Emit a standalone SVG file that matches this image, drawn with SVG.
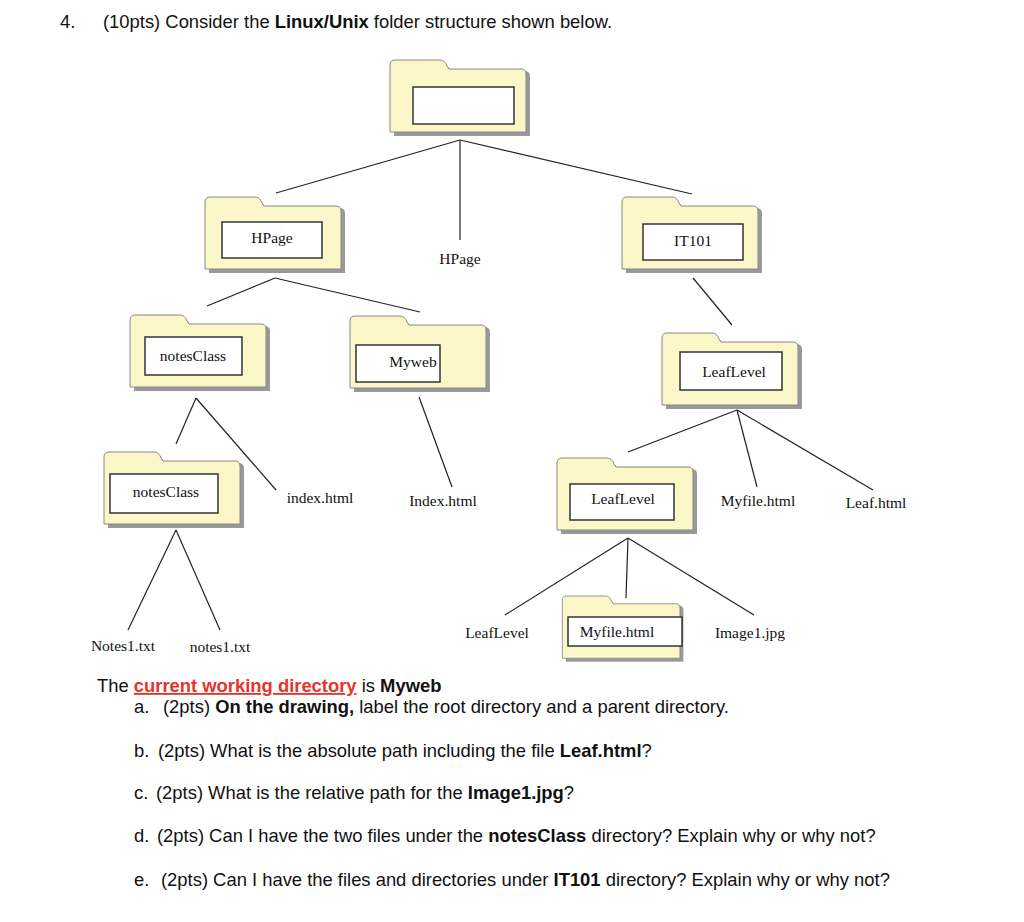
<svg xmlns="http://www.w3.org/2000/svg" width="1024" height="922" viewBox="0 0 1024 922">
<defs>
<style>
.f{fill:#fbf7c8;stroke:#888;stroke-width:1}
.sh{fill:#999}
.b{fill:#fff;stroke:#333;stroke-width:1.5}
.t{font-family:"Liberation Serif",serif;font-size:15.5px;fill:#111}
.q{font-family:"Liberation Sans",Arial,sans-serif;font-size:18.4px;fill:#111}
.c line{stroke:#222;stroke-width:1.2}
</style>
<symbol id="fold" viewBox="0 0 138 74" overflow="visible">
<path class="sh" d="M4 14 L4 8 Q4 5 8 5 L54 5 Q58 5 60 10 L134 11 Q140 11 140 16 L140 76 L4 76 Z"/>
<path class="f" d="M0 10 L0 5 Q0 0 5 0 L50 0 Q55 0 57 6 L59 9 L131 9 Q136 9 136 14 L136 72 L0 72 Z"/>
</symbol>
</defs>
<rect width="1024" height="922" fill="#fff"/>
<text class="q" x="60" y="28">4.</text>
<text class="q" x="103" y="28">(10pts) Consider the <tspan font-weight="bold">Linux/Unix</tspan> folder structure shown below.</text>
<g class="c">
<line x1="460" y1="140" x2="276" y2="193"/><line x1="460" y1="140" x2="460" y2="240"/><line x1="460" y1="140" x2="692" y2="194"/>
<line x1="275" y1="278" x2="207" y2="306"/><line x1="275" y1="278" x2="420" y2="312"/>
<line x1="693" y1="278" x2="732" y2="325"/>
<line x1="196" y1="398" x2="176" y2="444"/><line x1="196" y1="398" x2="276" y2="490"/>
<line x1="419" y1="397" x2="452" y2="487"/>
<line x1="737" y1="410" x2="628" y2="452"/><line x1="737" y1="410" x2="757" y2="487"/><line x1="737" y1="410" x2="873" y2="490"/>
<line x1="176" y1="530" x2="128" y2="630"/><line x1="176" y1="530" x2="220" y2="630"/>
<line x1="628" y1="538" x2="505" y2="615"/><line x1="628" y1="538" x2="626" y2="598"/><line x1="628" y1="538" x2="754" y2="615"/>
</g>
<g id="root"><use href="#fold" x="390" y="60" width="138" height="74"/><rect class="b" x="413" y="87" width="101" height="37"/></g>
<g id="hpage"><use href="#fold" x="205" y="197" width="138" height="74"/><rect class="b" x="222" y="222" width="100" height="36"/><text class="t" x="272" y="243" text-anchor="middle">HPage</text></g>
<g id="it101"><use href="#fold" x="622" y="197" width="138" height="74"/><rect class="b" x="643" y="224" width="100" height="36"/><text class="t" x="693" y="246" text-anchor="middle">IT101</text></g>
<g id="notesclass1"><use href="#fold" x="130" y="315" width="138" height="74"/><rect class="b" x="145" y="337" width="97" height="38"/><text class="t" x="193" y="361" text-anchor="middle">notesClass</text></g>
<g id="myweb"><use href="#fold" x="350" y="316" width="138" height="74"/><rect class="b" x="356" y="345" width="84" height="37"/><text class="t" x="413" y="367" text-anchor="middle">Myweb</text></g>
<g id="leaflevel1"><use href="#fold" x="662" y="333" width="138" height="74"/><rect class="b" x="680" y="352" width="102" height="38"/><text class="t" x="734" y="377" text-anchor="middle">LeafLevel</text></g>
<g id="notesclass2"><use href="#fold" x="104" y="452" width="138" height="74"/><rect class="b" x="110" y="474" width="108" height="39"/><text class="t" x="166" y="497" text-anchor="middle">notesClass</text></g>
<g id="leaflevel2"><use href="#fold" x="557" y="458" width="138" height="74"/><rect class="b" x="570" y="484" width="104" height="36"/><text class="t" x="623" y="504" text-anchor="middle">LeafLevel</text></g>
<g id="myfile2"><use href="#fold" x="553" y="596" width="138" height="64"/><rect class="b" x="568" y="617" width="114" height="29"/><text class="t" x="617" y="637" text-anchor="middle">Myfile.html</text></g>
<g id="labels">
<text class="t" x="460" y="264" text-anchor="middle">HPage</text>
<text class="t" x="320" y="503" text-anchor="middle">index.html</text>
<text class="t" x="443" y="506" text-anchor="middle">Index.html</text>
<text class="t" x="758" y="506" text-anchor="middle">Myfile.html</text>
<text class="t" x="876" y="508" text-anchor="middle">Leaf.html</text>
<text class="t" x="123" y="651" text-anchor="middle">Notes1.txt</text>
<text class="t" x="220" y="652" text-anchor="middle">notes1.txt</text>
<text class="t" x="497" y="638" text-anchor="middle">LeafLevel</text>
<text class="t" x="750" y="638" text-anchor="middle">Image1.jpg</text>
</g>
<text class="q" x="97" y="692">The <tspan font-weight="bold" fill="#e8332a" text-decoration="underline">current working directory</tspan> is <tspan font-weight="bold">Myweb</tspan></text>
<text class="q" x="134" y="713">a.<tspan x="163">(2pts) </tspan><tspan font-weight="bold">On the drawing,</tspan> label the root directory and a parent directory.</text>
<text class="q" x="134" y="757">b.<tspan x="158">(2pts) What is the absolute path including the file </tspan><tspan font-weight="bold">Leaf.html</tspan>?</text>
<text class="q" x="134" y="799">c.<tspan x="156">(2pts) What is the relative path for the </tspan><tspan font-weight="bold">Image1.jpg</tspan>?</text>
<text class="q" x="134" y="842">d.<tspan x="157">(2pts) Can I have the two files under the </tspan><tspan font-weight="bold">notesClass</tspan> directory? Explain why or why not?</text>
<text class="q" x="134" y="886">e.<tspan x="161">(2pts) Can I have the files and directories under </tspan><tspan font-weight="bold">IT101</tspan> directory? Explain why or why not?</text>
</svg>
